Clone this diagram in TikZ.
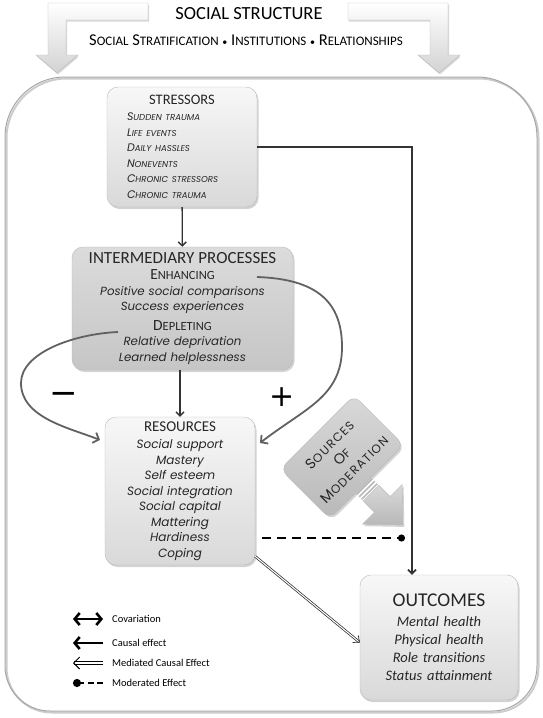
\documentclass[tikz,border=0pt]{standalone}
\usepackage{fontspec}
\setmainfont{Carlito}
\newfontfamily\geofont{Poppins}
\newfontfamily\srcfont[LetterSpace=10]{Poppins}
\newfontfamily\symfont{DejaVu Sans}
\usetikzlibrary{arrows.meta,shadows,calc}

% fake small caps: big letter, then the rest at \scsize
\newcommand\smcap[2]{#1{\fontsize{\scsize}{\scsize}\selectfont #2}}

\begin{document}
\begin{tikzpicture}
  [
    x=1pt, y=-1pt,
    box/.style={
      shade,
      top color=gray!6,
      bottom color=gray!30,
      draw=gray!55,
      rounded corners=11pt,
      drop shadow={shadow xshift=1.5pt,shadow yshift=-2pt,opacity=.35},
      inner sep=0pt,
      text=black!85
    },
    darkbox/.style={
      box,
      top color=gray!28,
      bottom color=gray!45
    },
    srcbox/.style={
      box,
      top color=gray!30,
      bottom color=gray!55,
      rounded corners=8pt
    },
    bent/.style={
      shade,
      top color=white,
      bottom color=gray!35,
      draw=gray!55,
      drop shadow={shadow xshift=1pt,shadow yshift=-1.5pt,opacity=.3}
    },
    frame/.style={
      draw=gray!70,
      line width=1pt
    },
    causal/.style={
      draw=black!80,
      line width=1.4pt,
      -{Straight Barb[length=4pt,width=8pt]}
    },
    covar/.style={
      causal,
      {Straight Barb[length=4pt,width=8pt]}-{Straight Barb[length=4pt,width=8pt]}
    },
    mediated/.style={
      draw=black!85,
      double=white,
      double distance=1.1pt,
      line width=.7pt,
      -{Straight Barb[length=5pt,width=9pt]}
    },
    moderated/.style={
      draw=black,
      line width=2pt,
      dash pattern=on 9pt off 6pt,
      -{Circle[length=7pt]}
    },
    curve/.style={
      draw=black!62,
      line width=1.8pt,
      -{Straight Barb[length=5pt,width=11pt]}
    },
    legcovar/.style={
      draw=black,
      line width=2.6pt,
      {Straight Barb[length=5pt,width=12pt]}-{Straight Barb[length=5pt,width=12pt]}
    },
    legcausal/.style={
      draw=black,
      line width=2.6pt,
      -{Straight Barb[length=5pt,width=12pt]}
    },
    legmediated/.style={
      mediated,
      draw=black,
      line width=1pt,
      double distance=1.6pt,
      -{Straight Barb[length=6pt,width=12pt]}
    },
    legmoderated/.style={
      moderated,
      line width=2.6pt,
      dash pattern=on 6pt off 3.5pt,
      -{Circle[length=8pt]}
    },
    legend/.style={
      font=\fontsize{10.5}{10.5}\selectfont,
      inner sep=0pt
    }
  ]

  \useasboundingbox (0,0) rectangle (543,718);

  % social structure
  \foreach \s in {1,-1} {
    \draw [bent, xshift=248pt, xscale=\s] (-100,3) -- (-200,3) -- (-200,55) -- (-212,55)
      -- (-191,73) -- (-170,55) -- (-182,55) -- (-182,20) -- (-100,20) -- cycle;
  }
  \node (title) at (249,14) {\fontsize{18.5}{18.5}\selectfont SOCIAL STRUCTURE};
  \node (subtitle) at (246,40) [font=\fontsize{16.5}{16.5}\selectfont\def\scsize{13}]
    {\smcap{S}{OCIAL} \smcap{S}{TRATIFICATION} {\fontsize{10}{10}\selectfont•}
     \smcap{I}{NSTITUTIONS} {\fontsize{10}{10}\selectfont•} \smcap{R}{ELATIONSHIPS}};

  % frame
  \draw [draw=gray!40, line width=2pt, xshift=1.5pt, yshift=-1.5pt]
    (5,400) [rounded corners=60pt] |- (271,77) -| (537,400)
    [rounded corners=45pt] |- (271,711) -| (5,400) -- cycle;
  \draw [frame] (5,400) [rounded corners=60pt] |- (271,77) -| (537,400)
    [rounded corners=45pt] |- (271,711) -| (5,400) -- cycle;

  % boxes
  \node [box, minimum width=150, minimum height=120, text width=110, inner xsep=20pt, align=left,
    font=\geofont\itshape\fontsize{11}{15.6}\selectfont\def\scsize{8.6}] (stressors) at (182,147)
    {\hfill{\normalfont\rmfamily\fontsize{14.5}{14.5}\selectfont STRESSORS}\hfill\null\\
     \smcap{S}{UDDEN TRAUMA}\\
     \smcap{L}{IFE EVENTS}\\
     \smcap{D}{AILY HASSLES}\\
     \smcap{N}{ONEVENTS}\\
     \smcap{C}{HRONIC STRESSORS}\\
     \smcap{C}{HRONIC TRAUMA}};

  \node [darkbox, minimum width=221, minimum height=123, text width=211, align=center,
    font=\geofont\itshape\fontsize{11.8}{15.5}\selectfont] (intermediary) at (182.5,308.5)
    {{\normalfont\rmfamily\fontsize{17}{17}\selectfont INTERMEDIARY PROCESSES}\\[1pt]
     {\normalfont\rmfamily\def\scsize{12.5}\fontsize{15.5}{15.5}\selectfont\smcap{E}{NHANCING}}\\
     Positive social comparisons\\
     Success experiences\\[4pt]
     {\normalfont\rmfamily\def\scsize{12.5}\fontsize{15.5}{15.5}\selectfont\smcap{D}{EPLETING}}\\
     Relative deprivation\\
     Learned helplessness};

  \node [box, minimum width=150, minimum height=148, text width=140, align=center,
    font=\geofont\itshape\fontsize{12}{15.5}\selectfont] (resources) at (180,491)
    {{\normalfont\rmfamily\fontsize{15}{15}\selectfont RESOURCES}\\[1.5pt]
     Social support\\
     Mastery\\
     Self esteem\\
     Social integration\\
     Social capital\\
     Mattering\\
     Hardiness\\
     Coping};

  \node [box, minimum width=158, minimum height=125, text width=150, align=center,
    font=\itshape\fontsize{14.5}{18}\selectfont] (outcomes) at (439,637.5)
    {{\upshape\fontsize{19.5}{19.5}\selectfont OUTCOMES}\\[2pt]
     Mental health\\
     Physical health\\
     Role transitions\\
     Status attainment};

  \node [srcbox, rotate=45, minimum width=104, minimum height=70, align=center,
    font=\srcfont\fontsize{14.5}{17.5}\selectfont\def\scsize{12}] (sources) at (342,457)
    {\smcap{S}{OURCES}\\ \smcap{O}{F}\\ \smcap{M}{ODERATION}};

  % moderation arrow
  \begin{scope}[shift={(sources.center)}, rotate=-45]
    \foreach \a in {36,39.5,43} {
      \fill [gray!55] (\a,-6) rectangle (\a+1.6,16);
    }
    \draw [srcbox, drop shadow={opacity=0}, rounded corners=0pt]
      (46,-6) -- (62,-6) -- (62,-23) -- (91,5) -- (62,33) -- (62,16) -- (46,16) -- cycle;
  \end{scope}

  % signs
  \node [font=\symfont\fontsize{34}{34}\selectfont] (minus) at (64,398) {−};
  \node [font=\symfont\fontsize{30}{30}\selectfont] (plus) at (282,397) {+};

  % effects
  \draw [causal] (stressors) -- (intermediary);
  \draw [causal] (intermediary.south -| resources.north) -- (resources.north);
  \draw [causal, line width=1.8pt] (stressors.east) -| ([xshift=-27pt]outcomes.north);
  \draw [mediated] (resources.-41) -- ([yshift=-5pt]outcomes.west);

  \coordinate (moddot) at (405,538);
  \draw [moderated] ($(resources.east |- moddot)+(7,0)$) -- (moddot);

  \coordinate (enh) at ($(intermediary.center)+(74.5,-31.5)$);
  \coordinate (enhturn) at (342,347);
  \coordinate (enhin) at ($(resources.center)+(80,-48)$);
  \draw [curve] (enh) .. controls +(60,2) and +(0,-45) .. (enhturn)
    .. controls +(0,50) and +(45,-35) .. (enhin);

  \coordinate (dep) at ($(intermediary.center)+(-64.5,23.5)$);
  \coordinate (depturn) at (21,383);
  \coordinate (depin) at ($(resources.center)+(-80,-51)$);
  \draw [curve] (dep) .. controls +(-45,2) and +(0,-30) .. (depturn)
    .. controls +(0,35) and +(-30,-12) .. (depin);

  % legend
  \foreach \y/\kind/\txt in {619/covar/Covariation, 643/causal/Causal effect,
      663/mediated/Mediated Causal Effect, 683/moderated/Moderated Effect} {
    \coordinate (\kind-a) at (73,\y);
    \coordinate (\kind-b) at (103,\y);
    \draw [leg\kind] (\kind-b) -- (\kind-a);
    \node [legend, anchor=west] (\kind-txt) at (112,\y) {\txt};
  }
\end{tikzpicture}
\end{document}
